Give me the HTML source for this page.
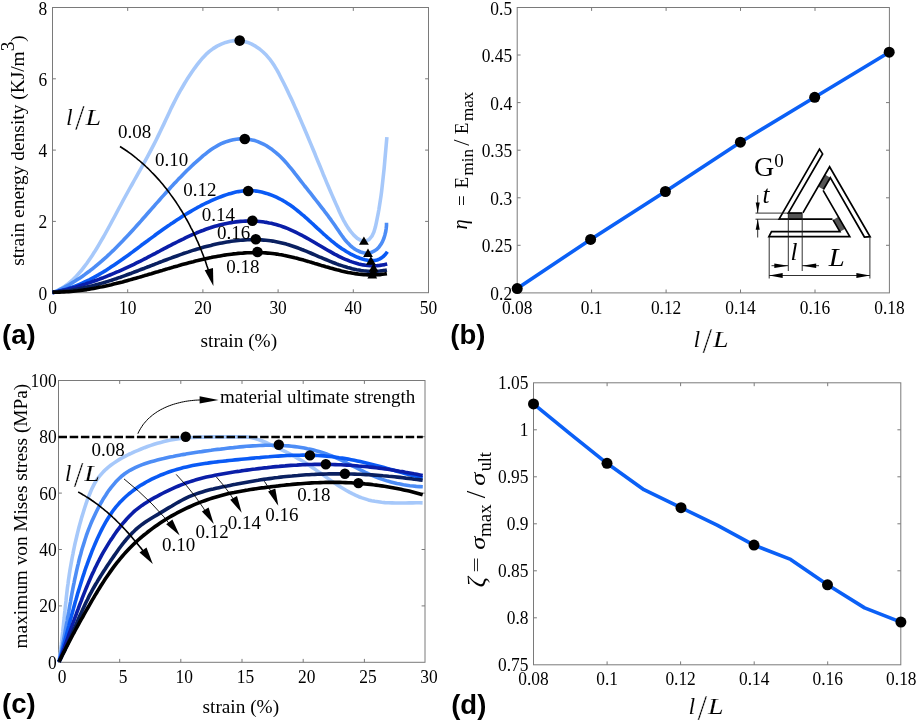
<!DOCTYPE html>
<html><head><meta charset="utf-8"><title>figure</title><style>html,body{margin:0;padding:0;background:#fff}svg{display:block}</style></head><body>
<svg width="917" height="722" viewBox="0 0 917 722">
<rect width="917" height="722" fill="#fff"/>
<rect x="52.5" y="7.5" width="376.0" height="285.2" fill="none" stroke="#7a7a7a" stroke-width="1"/>
<path d="M127.7,292.7 v-3.4 M127.7,7.5 v3.4 M202.9,292.7 v-3.4 M202.9,7.5 v3.4 M278.1,292.7 v-3.4 M278.1,7.5 v3.4 M353.3,292.7 v-3.4 M353.3,7.5 v3.4 M52.5,221.4 h3.4 M428.5,221.4 h-3.4 M52.5,150.1 h3.4 M428.5,150.1 h-3.4 M52.5,78.8 h3.4 M428.5,78.8 h-3.4 " stroke="#7a7a7a" stroke-width="1" fill="none"/>
<g fill="none" stroke-width="3.6" stroke-linejoin="round">
<path d="M52.5,292.5 L56.8,290.8 L60.9,288.7 L64.7,286.3 L68.3,283.6 L71.8,280.7 L75.0,277.6 L78.1,274.2 L81.1,270.8 L83.9,267.2 L86.7,263.5 L89.3,259.7 L91.9,255.9 L94.4,252.1 L96.8,248.2 L99.1,244.3 L101.4,240.4 L103.7,236.5 L105.9,232.5 L108.1,228.5 L110.3,224.5 L112.4,220.5 L114.6,216.5 L116.7,212.5 L118.8,208.5 L121.0,204.5 L123.1,200.5 L125.3,196.5 L127.5,192.5 L129.7,188.5 L132.0,184.5 L134.2,180.5 L136.4,176.6 L138.6,172.6 L140.9,168.6 L143.1,164.6 L145.3,160.6 L147.5,156.6 L149.6,152.6 L151.7,148.6 L153.8,144.6 L155.9,140.5 L157.9,136.4 L159.9,132.3 L161.8,128.2 L163.8,124.1 L165.7,120.0 L167.6,115.9 L169.6,111.7 L171.5,107.6 L173.5,103.6 L175.6,99.5 L177.7,95.4 L179.9,91.4 L182.2,87.5 L184.5,83.5 L186.9,79.6 L189.4,75.8 L191.9,72.0 L194.5,68.3 L197.2,64.7 L200.0,61.1 L202.9,57.7 L206.0,54.4 L209.4,51.4 L213.1,48.6 L217.1,46.1 L221.3,44.1 L225.6,42.4 L230.0,41.3 L234.5,40.6 L239.0,40.6 L243.4,41.2 L247.7,42.4 L251.8,44.2 L255.8,46.4 L259.6,49.0 L263.1,52.0 L266.5,55.3 L269.5,58.8 L272.2,62.5 L274.7,66.3 L277.0,70.2 L279.2,74.2 L281.2,78.2 L283.3,82.3 L285.3,86.3 L287.3,90.4 L289.2,94.5 L291.2,98.6 L293.1,102.8 L294.9,106.9 L296.8,111.1 L298.6,115.2 L300.4,119.4 L302.2,123.6 L304.0,127.8 L305.8,132.0 L307.6,136.2 L309.3,140.4 L311.1,144.6 L312.8,148.8 L314.6,153.0 L316.3,157.3 L318.0,161.5 L319.8,165.7 L321.5,169.9 L323.2,174.2 L325.0,178.4 L326.7,182.6 L328.5,186.8 L330.3,191.0 L332.1,195.1 L333.9,199.3 L335.7,203.4 L337.6,207.6 L339.4,211.7 L341.3,215.7 L343.3,219.8 L345.5,223.7 L347.9,227.6 L350.6,231.4 L353.8,235.1 L357.3,238.4 L361.2,240.6 L365.2,241.2 L369.0,239.6 L371.9,236.2 L373.9,231.9 L375.3,227.3 L376.3,222.8 L377.2,218.4 L378.1,213.9 L378.9,209.5 L379.6,205.0 L380.3,200.5 L381.0,196.0 L381.6,191.5 L382.1,187.0 L382.6,182.5 L383.1,177.9 L383.6,173.4 L384.1,168.8 L384.5,164.3 L384.9,159.7 L385.3,155.2 L385.7,150.7 L386.1,146.1 L386.5,141.6 L386.9,137.1" stroke="#a6c8fa"/>
<path d="M52.6,292.9 L55.5,291.6 L58.4,290.3 L61.2,288.9 L64.0,287.5 L66.7,286.0 L69.4,284.5 L72.1,282.9 L74.8,281.3 L77.4,279.6 L80.0,277.9 L82.5,276.2 L85.0,274.4 L87.5,272.5 L90.0,270.7 L92.4,268.8 L94.8,266.9 L97.2,264.9 L99.6,262.9 L101.9,260.9 L104.2,258.8 L106.5,256.8 L108.8,254.7 L111.1,252.5 L113.3,250.4 L115.5,248.2 L117.7,246.0 L119.9,243.8 L122.1,241.6 L124.2,239.3 L126.4,237.0 L128.5,234.8 L130.6,232.5 L132.7,230.2 L134.8,227.9 L136.9,225.5 L139.0,223.2 L141.1,220.9 L143.1,218.5 L145.2,216.2 L147.3,213.8 L149.3,211.5 L151.4,209.1 L153.5,206.8 L155.5,204.4 L157.6,202.1 L159.7,199.7 L161.7,197.4 L163.8,195.1 L165.9,192.8 L168.0,190.5 L170.0,188.2 L172.1,185.9 L174.3,183.6 L176.4,181.4 L178.5,179.1 L180.7,176.9 L182.8,174.7 L185.0,172.5 L187.2,170.3 L189.4,168.2 L191.7,166.0 L193.9,163.9 L196.2,161.9 L198.5,159.8 L200.8,157.8 L203.2,155.7 L205.6,153.8 L208.0,151.9 L210.5,150.0 L213.1,148.3 L215.7,146.7 L218.4,145.1 L221.2,143.7 L224.0,142.5 L227.0,141.4 L230.1,140.5 L233.2,139.8 L236.4,139.3 L239.6,138.9 L242.7,138.8 L245.9,139.0 L248.9,139.3 L251.9,139.9 L254.9,140.6 L257.8,141.6 L260.6,142.8 L263.4,144.1 L266.1,145.5 L268.7,147.2 L271.3,148.9 L273.7,150.8 L276.2,152.8 L278.5,154.8 L280.8,157.0 L283.0,159.2 L285.1,161.5 L287.2,163.9 L289.2,166.3 L291.2,168.7 L293.2,171.1 L295.1,173.6 L297.1,176.1 L299.0,178.6 L300.9,181.1 L302.8,183.5 L304.7,186.0 L306.7,188.4 L308.6,190.8 L310.5,193.2 L312.4,195.6 L314.3,198.1 L316.2,200.5 L318.1,202.9 L320.0,205.3 L321.9,207.8 L323.8,210.2 L325.6,212.7 L327.5,215.1 L329.3,217.7 L331.2,220.2 L333.0,222.7 L334.8,225.3 L336.6,227.9 L338.4,230.6 L340.2,233.2 L342.0,235.8 L343.9,238.4 L345.8,240.8 L347.9,243.1 L350.1,245.3 L352.5,247.4 L355.0,249.2 L357.7,250.7 L360.5,252.0 L363.4,252.8 L366.3,253.2 L369.2,253.0 L371.9,252.2 L374.5,250.9 L376.9,249.2 L379.1,246.9 L381.0,244.3 L382.6,241.4 L383.9,238.2 L384.9,234.9 L385.7,231.7 L386.2,228.5 L386.5,225.5 L386.5,222.8" stroke="#4d8df6"/>
<path d="M52.4,292.5 L55.1,292.0 L57.7,291.4 L60.2,290.8 L62.8,290.1 L65.3,289.4 L67.8,288.7 L70.3,287.8 L72.7,287.0 L75.1,286.1 L77.6,285.1 L80.0,284.1 L82.3,283.1 L84.7,282.0 L87.0,280.9 L89.3,279.8 L91.6,278.6 L93.9,277.4 L96.2,276.1 L98.4,274.9 L100.7,273.5 L102.9,272.2 L105.1,270.9 L107.3,269.5 L109.5,268.1 L111.7,266.6 L113.8,265.2 L116.0,263.7 L118.1,262.3 L120.3,260.8 L122.4,259.3 L124.5,257.7 L126.7,256.2 L128.8,254.7 L130.9,253.1 L133.0,251.6 L135.1,250.0 L137.2,248.5 L139.3,246.9 L141.3,245.3 L143.4,243.8 L145.5,242.2 L147.6,240.7 L149.7,239.1 L151.8,237.6 L153.9,236.1 L155.9,234.5 L158.0,233.0 L160.1,231.5 L162.2,230.0 L164.3,228.5 L166.5,227.0 L168.6,225.6 L170.7,224.1 L172.9,222.7 L175.0,221.2 L177.2,219.8 L179.4,218.4 L181.5,217.0 L183.7,215.6 L185.9,214.3 L188.2,212.9 L190.4,211.6 L192.7,210.3 L194.9,209.0 L197.2,207.7 L199.5,206.5 L201.9,205.2 L204.2,204.0 L206.5,202.9 L208.9,201.8 L211.3,200.7 L213.7,199.6 L216.1,198.6 L218.5,197.6 L220.9,196.7 L223.4,195.8 L225.9,194.9 L228.3,194.1 L230.8,193.4 L233.3,192.7 L235.9,192.1 L238.4,191.6 L240.9,191.2 L243.5,190.9 L246.1,190.7 L248.7,190.6 L251.2,190.6 L253.8,190.8 L256.4,191.1 L259.0,191.6 L261.6,192.1 L264.1,192.7 L266.6,193.4 L269.1,194.2 L271.6,195.1 L274.0,196.1 L276.4,197.2 L278.7,198.3 L281.0,199.5 L283.2,200.7 L285.4,202.0 L287.6,203.4 L289.7,204.8 L291.8,206.3 L293.9,207.8 L295.9,209.4 L297.9,211.0 L299.9,212.6 L301.9,214.3 L303.9,215.9 L305.8,217.7 L307.8,219.4 L309.7,221.2 L311.7,223.0 L313.6,224.7 L315.6,226.6 L317.5,228.4 L319.5,230.2 L321.5,232.0 L323.4,233.8 L325.4,235.5 L327.4,237.3 L329.4,239.0 L331.5,240.8 L333.5,242.4 L335.6,244.1 L337.7,245.7 L339.8,247.2 L341.9,248.7 L344.1,250.1 L346.3,251.5 L348.5,252.8 L350.8,254.1 L353.0,255.2 L355.4,256.3 L357.7,257.3 L360.1,258.2 L362.5,259.0 L365.0,259.7 L367.5,260.2 L369.9,260.5 L372.3,260.6 L374.7,260.5 L377.1,260.0 L379.3,259.1 L381.5,257.9 L383.6,256.3 L385.5,254.3 L387.4,251.7" stroke="#0a5af5"/>
<path d="M52.4,292.7 L54.9,292.2 L57.3,291.7 L59.6,291.1 L62.0,290.6 L64.4,290.0 L66.7,289.4 L69.1,288.8 L71.4,288.2 L73.8,287.6 L76.1,286.9 L78.4,286.2 L80.7,285.5 L83.0,284.8 L85.3,284.1 L87.5,283.3 L89.8,282.6 L92.1,281.8 L94.3,281.0 L96.6,280.2 L98.8,279.4 L101.0,278.5 L103.3,277.7 L105.5,276.8 L107.7,275.9 L109.9,275.0 L112.1,274.1 L114.3,273.2 L116.5,272.2 L118.7,271.3 L120.9,270.3 L123.1,269.3 L125.2,268.3 L127.4,267.3 L129.6,266.3 L131.7,265.3 L133.9,264.3 L136.1,263.2 L138.2,262.1 L140.4,261.1 L142.6,260.0 L144.7,258.9 L146.9,257.8 L149.0,256.6 L151.2,255.5 L153.3,254.4 L155.5,253.3 L157.6,252.1 L159.8,251.0 L161.9,249.8 L164.1,248.7 L166.2,247.6 L168.4,246.4 L170.6,245.3 L172.7,244.2 L174.9,243.1 L177.1,242.0 L179.3,240.9 L181.4,239.8 L183.6,238.8 L185.8,237.7 L188.0,236.7 L190.2,235.7 L192.4,234.7 L194.6,233.8 L196.8,232.8 L199.1,231.9 L201.3,231.0 L203.5,230.2 L205.8,229.3 L208.1,228.5 L210.3,227.8 L212.6,227.0 L214.9,226.3 L217.2,225.7 L219.5,225.1 L221.8,224.5 L224.1,223.9 L226.5,223.4 L228.8,223.0 L231.2,222.6 L233.5,222.2 L235.9,221.9 L238.3,221.6 L240.6,221.4 L243.0,221.2 L245.4,221.1 L247.8,221.0 L250.2,221.0 L252.6,221.1 L254.9,221.1 L257.3,221.3 L259.7,221.5 L262.1,221.7 L264.4,222.1 L266.8,222.4 L269.1,222.9 L271.4,223.3 L273.7,223.9 L276.0,224.5 L278.3,225.2 L280.6,225.9 L282.8,226.7 L285.0,227.5 L287.3,228.4 L289.5,229.3 L291.7,230.3 L293.9,231.3 L296.1,232.4 L298.2,233.5 L300.4,234.6 L302.6,235.7 L304.7,236.9 L306.9,238.1 L309.0,239.3 L311.1,240.5 L313.3,241.8 L315.4,243.0 L317.5,244.3 L319.6,245.5 L321.8,246.8 L323.9,248.0 L326.0,249.3 L328.1,250.5 L330.3,251.7 L332.4,252.9 L334.5,254.1 L336.7,255.2 L338.8,256.3 L341.0,257.4 L343.1,258.4 L345.3,259.3 L347.5,260.2 L349.7,261.1 L351.9,261.9 L354.1,262.6 L356.4,263.3 L358.6,263.9 L360.9,264.4 L363.2,264.9 L365.5,265.2 L367.8,265.5 L370.1,265.7 L372.5,265.8 L374.9,265.7 L377.3,265.6 L379.7,265.4 L382.2,265.0 L384.7,264.6 L387.2,264.0" stroke="#0a1ea8"/>
<path d="M52.5,291.9 L54.8,291.8 L57.2,291.7 L59.5,291.5 L61.8,291.3 L64.2,291.0 L66.5,290.8 L68.8,290.5 L71.1,290.2 L73.4,289.8 L75.7,289.4 L78.0,289.0 L80.2,288.6 L82.5,288.1 L84.8,287.6 L87.0,287.1 L89.3,286.6 L91.6,286.0 L93.8,285.4 L96.0,284.8 L98.3,284.2 L100.5,283.6 L102.8,282.9 L105.0,282.3 L107.2,281.6 L109.4,280.9 L111.6,280.2 L113.9,279.4 L116.1,278.7 L118.3,277.9 L120.5,277.2 L122.7,276.4 L124.9,275.6 L127.1,274.8 L129.3,274.0 L131.5,273.2 L133.7,272.3 L135.9,271.5 L138.0,270.7 L140.2,269.8 L142.4,269.0 L144.6,268.2 L146.8,267.3 L149.0,266.5 L151.2,265.6 L153.4,264.8 L155.6,263.9 L157.7,263.1 L159.9,262.2 L162.1,261.4 L164.3,260.5 L166.5,259.7 L168.7,258.9 L170.9,258.1 L173.1,257.3 L175.3,256.5 L177.5,255.7 L179.7,254.9 L181.9,254.1 L184.1,253.3 L186.3,252.6 L188.5,251.9 L190.7,251.1 L192.9,250.4 L195.2,249.7 L197.4,249.0 L199.6,248.4 L201.8,247.7 L204.1,247.1 L206.3,246.5 L208.6,245.9 L210.8,245.4 L213.1,244.8 L215.3,244.3 L217.6,243.8 L219.9,243.3 L222.1,242.9 L224.4,242.5 L226.7,242.1 L229.0,241.7 L231.3,241.3 L233.6,241.0 L235.9,240.7 L238.2,240.5 L240.5,240.3 L242.8,240.1 L245.1,239.9 L247.4,239.8 L249.8,239.7 L252.1,239.7 L254.4,239.7 L256.7,239.7 L259.0,239.8 L261.3,239.9 L263.6,240.1 L265.9,240.3 L268.2,240.5 L270.5,240.8 L272.8,241.1 L275.0,241.5 L277.3,241.9 L279.6,242.4 L281.8,242.9 L284.1,243.5 L286.3,244.1 L288.5,244.8 L290.7,245.5 L293.0,246.2 L295.2,247.0 L297.4,247.8 L299.6,248.6 L301.8,249.5 L303.9,250.3 L306.1,251.2 L308.3,252.1 L310.5,253.0 L312.7,254.0 L314.8,254.9 L317.0,255.8 L319.2,256.8 L321.4,257.7 L323.5,258.6 L325.7,259.5 L327.9,260.4 L330.1,261.3 L332.2,262.2 L334.4,263.0 L336.6,263.9 L338.8,264.7 L341.0,265.4 L343.2,266.1 L345.4,266.8 L347.6,267.5 L349.8,268.1 L352.1,268.7 L354.3,269.2 L356.6,269.7 L358.8,270.1 L361.1,270.5 L363.4,270.8 L365.7,271.0 L368.0,271.2 L370.3,271.3 L372.6,271.3 L375.0,271.3 L377.3,271.2 L379.7,271.0 L382.1,270.7 L384.5,270.4 L386.9,269.9" stroke="#0a2060"/>
<path d="M52.5,292.2 L54.8,292.2 L57.1,292.2 L59.4,292.1 L61.7,292.0 L64.0,291.9 L66.3,291.8 L68.6,291.7 L70.9,291.5 L73.2,291.3 L75.5,291.0 L77.7,290.8 L80.0,290.5 L82.3,290.2 L84.5,289.9 L86.8,289.6 L89.1,289.2 L91.3,288.8 L93.6,288.4 L95.8,288.0 L98.0,287.6 L100.3,287.1 L102.5,286.7 L104.8,286.2 L107.0,285.7 L109.2,285.2 L111.5,284.7 L113.7,284.1 L115.9,283.6 L118.1,283.0 L120.4,282.4 L122.6,281.9 L124.8,281.3 L127.0,280.7 L129.2,280.1 L131.4,279.4 L133.6,278.8 L135.9,278.2 L138.1,277.6 L140.3,276.9 L142.5,276.3 L144.7,275.6 L146.9,275.0 L149.1,274.3 L151.3,273.7 L153.5,273.0 L155.7,272.3 L157.9,271.7 L160.1,271.0 L162.3,270.4 L164.5,269.7 L166.7,269.1 L168.9,268.4 L171.2,267.8 L173.4,267.1 L175.6,266.5 L177.8,265.9 L180.0,265.2 L182.2,264.6 L184.4,264.0 L186.6,263.4 L188.9,262.8 L191.1,262.2 L193.3,261.7 L195.5,261.1 L197.7,260.6 L200.0,260.0 L202.2,259.5 L204.4,259.0 L206.7,258.5 L208.9,258.0 L211.1,257.6 L213.4,257.1 L215.6,256.7 L217.9,256.3 L220.1,255.9 L222.4,255.5 L224.6,255.1 L226.9,254.8 L229.1,254.5 L231.4,254.2 L233.7,253.9 L235.9,253.7 L238.2,253.4 L240.5,253.2 L242.8,253.1 L245.0,252.9 L247.3,252.8 L249.6,252.7 L251.9,252.7 L254.1,252.6 L256.4,252.6 L258.7,252.6 L261.0,252.7 L263.2,252.8 L265.5,252.9 L267.8,253.1 L270.0,253.3 L272.3,253.5 L274.6,253.8 L276.8,254.1 L279.1,254.5 L281.3,254.8 L283.6,255.3 L285.8,255.7 L288.0,256.2 L290.3,256.7 L292.5,257.2 L294.7,257.8 L297.0,258.3 L299.2,258.9 L301.4,259.5 L303.6,260.1 L305.8,260.8 L308.1,261.4 L310.3,262.1 L312.5,262.7 L314.7,263.4 L316.9,264.0 L319.1,264.7 L321.3,265.4 L323.6,266.0 L325.8,266.7 L328.0,267.3 L330.2,268.0 L332.4,268.6 L334.6,269.2 L336.8,269.8 L339.1,270.3 L341.3,270.9 L343.5,271.4 L345.7,271.9 L348.0,272.4 L350.2,272.8 L352.5,273.2 L354.7,273.6 L357.0,273.9 L359.2,274.2 L361.5,274.4 L363.8,274.6 L366.0,274.8 L368.3,274.9 L370.6,274.9 L372.9,274.9 L375.2,274.9 L377.5,274.7 L379.9,274.6 L382.2,274.3 L384.5,274.0 L386.9,273.6" stroke="#000000"/>
</g>
<circle cx="239.7" cy="40.6" r="5.3" fill="#000"/>
<circle cx="244.8" cy="139.0" r="5.3" fill="#000"/>
<circle cx="248.2" cy="191.0" r="5.3" fill="#000"/>
<circle cx="252.4" cy="220.8" r="5.3" fill="#000"/>
<circle cx="255.8" cy="239.2" r="5.3" fill="#000"/>
<circle cx="257.5" cy="252.0" r="5.3" fill="#000"/>
<path d="M363.9,236.4 l4.9,8.4 h-9.8 z" fill="#000"/>
<path d="M368.0,248.6 l4.9,8.4 h-9.8 z" fill="#000"/>
<path d="M370.9,256.3 l4.9,8.4 h-9.8 z" fill="#000"/>
<path d="M373.6,263.3 l4.9,8.4 h-9.8 z" fill="#000"/>
<path d="M373.4,266.8 l4.9,8.4 h-9.8 z" fill="#000"/>
<path d="M372.3,270.0 l4.9,8.4 h-9.8 z" fill="#000"/>
<path d="M120.0,146.5 L122.3,148.0 L124.6,149.5 L126.9,151.0 L129.1,152.6 L131.3,154.2 L133.5,155.9 L135.6,157.5 L137.7,159.3 L139.8,161.0 L141.9,162.8 L143.9,164.6 L145.9,166.5 L147.9,168.3 L149.8,170.2 L151.7,172.2 L153.6,174.1 L155.5,176.1 L157.3,178.1 L159.1,180.1 L160.9,182.2 L162.7,184.3 L164.4,186.4 L166.1,188.5 L167.8,190.7 L169.4,192.9 L171.0,195.1 L172.6,197.3 L174.2,199.5 L175.8,201.8 L177.3,204.1 L178.8,206.4 L180.2,208.7 L181.7,211.0 L183.1,213.4 L184.5,215.7 L185.8,218.1 L187.2,220.5 L188.5,222.9 L189.8,225.3 L191.0,227.8 L192.3,230.2 L193.5,232.7 L194.7,235.1 L195.8,237.6 L196.9,240.1 L198.1,242.6 L199.1,245.1 L200.2,247.7 L201.2,250.2 L202.2,252.7 L203.2,255.3 L204.1,257.8 L205.1,260.4 L206.0,262.9 L206.8,265.5 L207.7,268.1 L208.5,270.7 L209.3,273.2 L210.1,275.8" stroke="#000" stroke-width="1.6" fill="none"/>
<path d="M213.4,286.0 L204.7,270.2 L213.0,268.0 z" fill="#000"/>
<text x="134.5" y="137.9" font-size="19" text-anchor="middle" font-family="'Liberation Serif', 'Times New Roman', serif" >0.08</text>
<text x="171.6" y="166.1" font-size="19" text-anchor="middle" font-family="'Liberation Serif', 'Times New Roman', serif" >0.10</text>
<text x="199.8" y="195.5" font-size="19" text-anchor="middle" font-family="'Liberation Serif', 'Times New Roman', serif" >0.12</text>
<text x="218.3" y="220.9" font-size="19" text-anchor="middle" font-family="'Liberation Serif', 'Times New Roman', serif" >0.14</text>
<text x="233.7" y="239.1" font-size="19" text-anchor="middle" font-family="'Liberation Serif', 'Times New Roman', serif" >0.16</text>
<text x="242.8" y="273.0" font-size="19" text-anchor="middle" font-family="'Liberation Serif', 'Times New Roman', serif" >0.18</text>
<g font-family="'Liberation Serif', 'Times New Roman', serif" font-size="24" stroke="#fff" stroke-width="0.12"><text x="66.0" y="124.9" font-style="italic">l</text><text x="75.0" y="130.2" font-size="34.8" stroke-width="0.4">/</text><text transform="translate(85.4,124.9) scale(1.17,1)" font-style="italic">L</text></g>
<text transform="translate(47.3,299.7) scale(1,1.11)" font-size="17.4" text-anchor="end" font-family="'Liberation Serif', 'Times New Roman', serif" >0</text>
<text transform="translate(47.3,228.4) scale(1,1.11)" font-size="17.4" text-anchor="end" font-family="'Liberation Serif', 'Times New Roman', serif" >2</text>
<text transform="translate(47.3,157.1) scale(1,1.11)" font-size="17.4" text-anchor="end" font-family="'Liberation Serif', 'Times New Roman', serif" >4</text>
<text transform="translate(47.3,85.8) scale(1,1.11)" font-size="17.4" text-anchor="end" font-family="'Liberation Serif', 'Times New Roman', serif" >6</text>
<text transform="translate(47.3,14.5) scale(1,1.11)" font-size="17.4" text-anchor="end" font-family="'Liberation Serif', 'Times New Roman', serif" >8</text>
<text transform="translate(52.5,314.0) scale(1,1.11)" font-size="17.4" text-anchor="middle" font-family="'Liberation Serif', 'Times New Roman', serif" >0</text>
<text transform="translate(127.7,314.0) scale(1,1.11)" font-size="17.4" text-anchor="middle" font-family="'Liberation Serif', 'Times New Roman', serif" >10</text>
<text transform="translate(202.9,314.0) scale(1,1.11)" font-size="17.4" text-anchor="middle" font-family="'Liberation Serif', 'Times New Roman', serif" >20</text>
<text transform="translate(278.1,314.0) scale(1,1.11)" font-size="17.4" text-anchor="middle" font-family="'Liberation Serif', 'Times New Roman', serif" >30</text>
<text transform="translate(353.3,314.0) scale(1,1.11)" font-size="17.4" text-anchor="middle" font-family="'Liberation Serif', 'Times New Roman', serif" >40</text>
<text transform="translate(428.5,314.0) scale(1,1.11)" font-size="17.4" text-anchor="middle" font-family="'Liberation Serif', 'Times New Roman', serif" >50</text>
<text x="238.8" y="347.2" font-size="19.3" text-anchor="middle" font-family="'Liberation Serif', 'Times New Roman', serif" >strain (%)</text>
<text transform="translate(24.0,150.5) rotate(-90)" font-size="19.4" text-anchor="middle" font-family="'Liberation Serif', 'Times New Roman', serif">strain energy density (KJ/m<tspan dy="-9.6" font-size="19.4">3</tspan><tspan dy="9.6">)</tspan></text>
<text x="2.0" y="344.3" font-size="27.5" text-anchor="start" font-family="'Liberation Sans', Arial, sans-serif" font-weight="bold">(a)</text>
<rect x="517.2" y="7.5" width="372.2" height="285.4" fill="none" stroke="#7a7a7a" stroke-width="1"/>
<path d="M591.6,292.9 v-3.4 M591.6,7.5 v3.4 M666.1,292.9 v-3.4 M666.1,7.5 v3.4 M740.5,292.9 v-3.4 M740.5,7.5 v3.4 M815.0,292.9 v-3.4 M815.0,7.5 v3.4 M517.2,245.3 h3.4 M889.4,245.3 h-3.4 M517.2,197.8 h3.4 M889.4,197.8 h-3.4 M517.2,150.2 h3.4 M889.4,150.2 h-3.4 M517.2,102.6 h3.4 M889.4,102.6 h-3.4 M517.2,55.0 h3.4 M889.4,55.0 h-3.4 " stroke="#7a7a7a" stroke-width="1" fill="none"/>
<path d="M517.2,288.6 L590.6,239.4 L665.4,191.5 L740.4,142.2 L814.7,97.3 L889.2,52.2" stroke="#0b60f6" stroke-width="3.6" fill="none" stroke-linejoin="round"/>
<circle cx="517.2" cy="288.6" r="5.5" fill="#000"/>
<circle cx="590.6" cy="239.4" r="5.5" fill="#000"/>
<circle cx="665.4" cy="191.5" r="5.5" fill="#000"/>
<circle cx="740.4" cy="142.2" r="5.5" fill="#000"/>
<circle cx="814.7" cy="97.3" r="5.5" fill="#000"/>
<circle cx="889.2" cy="52.2" r="5.5" fill="#000"/>
<text transform="translate(512.1,299.9) scale(1,1.11)" font-size="17.4" text-anchor="end" font-family="'Liberation Serif', 'Times New Roman', serif" >0.2</text>
<text transform="translate(512.1,252.3) scale(1,1.11)" font-size="17.4" text-anchor="end" font-family="'Liberation Serif', 'Times New Roman', serif" >0.25</text>
<text transform="translate(512.1,204.8) scale(1,1.11)" font-size="17.4" text-anchor="end" font-family="'Liberation Serif', 'Times New Roman', serif" >0.3</text>
<text transform="translate(512.1,157.2) scale(1,1.11)" font-size="17.4" text-anchor="end" font-family="'Liberation Serif', 'Times New Roman', serif" >0.35</text>
<text transform="translate(512.1,109.6) scale(1,1.11)" font-size="17.4" text-anchor="end" font-family="'Liberation Serif', 'Times New Roman', serif" >0.4</text>
<text transform="translate(512.1,62.0) scale(1,1.11)" font-size="17.4" text-anchor="end" font-family="'Liberation Serif', 'Times New Roman', serif" >0.45</text>
<text transform="translate(512.1,14.5) scale(1,1.11)" font-size="17.4" text-anchor="end" font-family="'Liberation Serif', 'Times New Roman', serif" >0.5</text>
<text transform="translate(517.2,313.8) scale(1,1.11)" font-size="17.4" text-anchor="middle" font-family="'Liberation Serif', 'Times New Roman', serif" >0.08</text>
<text transform="translate(591.6,313.8) scale(1,1.11)" font-size="17.4" text-anchor="middle" font-family="'Liberation Serif', 'Times New Roman', serif" >0.1</text>
<text transform="translate(666.1,313.8) scale(1,1.11)" font-size="17.4" text-anchor="middle" font-family="'Liberation Serif', 'Times New Roman', serif" >0.12</text>
<text transform="translate(740.5,313.8) scale(1,1.11)" font-size="17.4" text-anchor="middle" font-family="'Liberation Serif', 'Times New Roman', serif" >0.14</text>
<text transform="translate(815.0,313.8) scale(1,1.11)" font-size="17.4" text-anchor="middle" font-family="'Liberation Serif', 'Times New Roman', serif" >0.16</text>
<text transform="translate(889.4,313.8) scale(1,1.11)" font-size="17.4" text-anchor="middle" font-family="'Liberation Serif', 'Times New Roman', serif" >0.18</text>
<g font-family="'Liberation Serif', 'Times New Roman', serif" font-size="24" stroke="#fff" stroke-width="0.12"><text x="693.5" y="347.3" font-style="italic">l</text><text x="702.5" y="352.6" font-size="34.8" stroke-width="0.4">/</text><text transform="translate(712.9,347.3) scale(1.17,1)" font-style="italic">L</text></g>
<text x="450.3" y="344.3" font-size="27.5" text-anchor="start" font-family="'Liberation Sans', Arial, sans-serif" font-weight="bold">(b)</text>
<g transform="translate(467.7,231) rotate(-90)" font-family="'Liberation Serif', 'Times New Roman', serif" font-size="19"><text x="1.5" y="-0.5" font-style="italic" font-size="20.5">η</text><text x="25" y="0">=</text><text x="42.4" y="0">E</text><text x="55.5" y="5.2" font-size="17">min</text><text x="85.3" y="0.8" font-size="22.5">/</text><text x="96.7" y="0">E</text><text x="110" y="5.2" font-size="17">max</text></g>
<g stroke-linejoin="miter">
<path d="M788.3,213.1 L802.0,213.1 L802.0,219.2 L788.3,219.2z" fill="#555"/>
<path d="M830.3,177.7 L823.4,189.5 L818.1,186.5 L825.0,174.6z" fill="#555"/>
<path d="M839.9,231.7 L833.1,219.9 L838.4,216.8 L845.2,228.7z" fill="#555"/>
<path d="M802.0,213.1 L788.3,213.1 L822.6,153.9 L819.5,149.1 L779.1,219.2 L832.5,219.2" fill="none" stroke="#000" stroke-width="1.7"/>
<path d="M823.4,189.5 L830.3,177.7 L864.4,237.0 L870.1,236.7 L829.6,166.7 L802.9,212.9" fill="none" stroke="#000" stroke-width="1.7"/>
<path d="M833.1,219.9 L839.9,231.7 L771.5,231.6 L768.9,236.7 L849.8,236.6 L823.1,190.4" fill="none" stroke="#000" stroke-width="1.7"/>
</g>
<path d="M755.5,213.1 H802 M755.5,219.2 H788 M788.3,213 V271 M802.2,213 V271 M769.2,237 V278.5 M869.9,237 V278.5 M757.7,195 V213 M757.7,219.2 V237.5 M771.5,265.7 H788 M802.2,265.7 H819 M769.2,275.5 H869.9" stroke="#1a1a1a" stroke-width="0.9" fill="none"/>
<path d="M757.7,213.1 L755.7,202.6 L759.7,202.6 z" fill="#000"/>
<path d="M757.7,219.2 L759.7,229.7 L755.7,229.7 z" fill="#000"/>
<path d="M788.3,265.7 L774.3,267.9 L774.3,263.5 z" fill="#000"/>
<path d="M802.2,265.7 L816.2,263.5 L816.2,267.9 z" fill="#000"/>
<path d="M769.2,275.5 L782.7,273.0 L782.7,278.0 z" fill="#000"/>
<path d="M869.9,275.5 L856.4,278.0 L856.4,273.0 z" fill="#000"/>
<text x="762.5" y="203.4" font-size="25" text-anchor="start" font-family="'Liberation Serif', 'Times New Roman', serif" font-style="italic">t</text>
<text x="790.5" y="260.0" font-size="25" text-anchor="start" font-family="'Liberation Serif', 'Times New Roman', serif" font-style="italic">l</text>
<text transform="translate(828.8,265.7) scale(1.15,1)" font-size="25" font-family="'Liberation Serif', 'Times New Roman', serif" font-style="italic">L</text>
<text x="754" y="176.4" font-family="'Liberation Serif', 'Times New Roman', serif" font-size="28">G<tspan dy="-9.5" font-size="19">0</tspan></text>
<rect x="58.5" y="380.5" width="366.5" height="281.8" fill="none" stroke="#7a7a7a" stroke-width="1"/>
<path d="M119.7,662.3 v-3.4 M119.7,380.5 v3.4 M180.8,662.3 v-3.4 M180.8,380.5 v3.4 M242.0,662.3 v-3.4 M242.0,380.5 v3.4 M303.2,662.3 v-3.4 M303.2,380.5 v3.4 M364.4,662.3 v-3.4 M364.4,380.5 v3.4 M58.5,605.9 h3.4 M425.0,605.9 h-3.4 M58.5,549.5 h3.4 M425.0,549.5 h-3.4 M58.5,493.1 h3.4 M425.0,493.1 h-3.4 M58.5,436.7 h3.4 M425.0,436.7 h-3.4 " stroke="#7a7a7a" stroke-width="1" fill="none"/>
<g fill="none" stroke-width="3.6" stroke-linejoin="round">
<path d="M59.0,661.8 L59.5,658.4 L59.9,655.0 L60.4,651.7 L60.8,648.3 L61.3,644.9 L61.7,641.5 L62.0,638.1 L62.4,634.7 L62.8,631.4 L63.1,628.0 L63.5,624.6 L63.8,621.2 L64.2,617.8 L64.5,614.4 L64.9,611.0 L65.2,607.6 L65.6,604.3 L66.0,600.9 L66.3,597.5 L66.7,594.1 L67.1,590.7 L67.5,587.3 L68.0,584.0 L68.4,580.6 L68.9,577.2 L69.4,573.8 L69.9,570.5 L70.5,567.1 L71.1,563.7 L71.7,560.4 L72.3,557.0 L73.0,553.6 L73.6,550.3 L74.3,547.0 L75.0,543.6 L75.8,540.3 L76.6,537.0 L77.4,533.7 L78.2,530.4 L79.0,527.2 L79.9,523.9 L80.8,520.7 L81.7,517.4 L82.7,514.2 L83.7,510.9 L84.7,507.7 L85.8,504.4 L86.9,501.2 L88.1,497.9 L89.4,494.7 L90.7,491.5 L92.1,488.3 L93.7,485.2 L95.3,482.2 L97.1,479.4 L99.1,476.7 L101.3,474.1 L103.5,471.6 L105.9,469.3 L108.4,467.1 L111.1,465.0 L113.8,463.1 L116.6,461.2 L119.5,459.4 L122.5,457.7 L125.5,456.1 L128.6,454.5 L131.7,453.1 L134.8,451.6 L138.0,450.3 L141.2,449.0 L144.4,447.7 L147.6,446.5 L150.9,445.4 L154.1,444.3 L157.4,443.3 L160.7,442.4 L164.0,441.6 L167.3,440.8 L170.6,440.1 L173.9,439.4 L177.3,438.9 L180.6,438.4 L184.0,438.1 L187.3,437.8 L190.7,437.5 L194.0,437.4 L197.4,437.2 L200.8,437.1 L204.2,437.1 L207.6,437.0 L211.0,436.9 L214.5,436.9 L217.9,436.9 L221.4,436.9 L224.8,436.9 L228.3,436.9 L231.7,436.9 L235.2,436.9 L238.6,436.9 L242.0,436.9 L245.4,436.9 L248.7,437.1 L252.0,437.8 L255.2,438.6 L258.4,439.6 L261.6,440.8 L264.8,442.0 L267.9,443.4 L271.0,444.8 L274.1,446.3 L277.1,447.7 L280.2,449.2 L283.3,450.7 L286.3,452.2 L289.3,453.7 L292.3,455.3 L295.3,456.9 L298.2,458.6 L301.2,460.3 L304.1,462.0 L307.0,463.9 L309.8,465.8 L312.7,467.7 L315.5,469.6 L318.3,471.6 L321.2,473.6 L324.0,475.6 L326.8,477.6 L329.6,479.6 L332.4,481.6 L335.3,483.5 L338.1,485.4 L341.0,487.3 L343.9,489.0 L346.8,490.7 L349.8,492.4 L352.8,493.9 L355.8,495.3 L358.8,496.7 L362.0,497.9 L365.1,498.9 L368.3,499.9 L371.6,500.7 L374.9,501.3 L378.2,501.8 L381.6,502.3 L385.0,502.6 L388.5,502.8 L392.0,502.9 L395.4,503.0 L398.9,503.0 L402.4,503.0 L405.8,503.0 L409.2,502.9 L412.6,502.9 L416.0,502.8 L419.3,502.8 L422.6,502.9" stroke="#a6c8fa"/>
<path d="M58.9,661.6 L59.6,658.6 L60.3,655.5 L61.0,652.4 L61.7,649.3 L62.3,646.2 L62.9,643.1 L63.6,639.9 L64.2,636.8 L64.8,633.7 L65.3,630.5 L65.9,627.3 L66.5,624.2 L67.1,621.0 L67.6,617.8 L68.2,614.6 L68.8,611.4 L69.3,608.2 L69.9,605.0 L70.5,601.8 L71.0,598.6 L71.6,595.4 L72.2,592.2 L72.8,589.0 L73.4,585.8 L74.1,582.6 L74.7,579.5 L75.4,576.3 L76.1,573.1 L76.8,569.9 L77.5,566.8 L78.3,563.6 L79.0,560.5 L79.8,557.3 L80.7,554.2 L81.5,551.1 L82.4,548.0 L83.4,544.9 L84.3,541.9 L85.3,538.8 L86.3,535.7 L87.4,532.7 L88.5,529.7 L89.7,526.7 L90.9,523.7 L92.1,520.8 L93.4,517.9 L94.8,514.9 L96.2,512.0 L97.6,509.2 L99.1,506.3 L100.6,503.5 L102.3,500.7 L103.9,497.9 L105.7,495.2 L107.4,492.5 L109.3,489.8 L111.2,487.3 L113.3,484.8 L115.4,482.3 L117.6,480.0 L119.9,477.8 L122.2,475.7 L124.7,473.8 L127.3,472.0 L130.0,470.3 L132.8,468.8 L135.7,467.4 L138.6,466.1 L141.6,464.9 L144.7,463.8 L147.8,462.8 L150.9,461.8 L154.1,460.9 L157.3,460.1 L160.4,459.3 L163.6,458.6 L166.8,457.8 L169.9,457.1 L173.1,456.5 L176.3,455.8 L179.4,455.2 L182.6,454.6 L185.7,454.1 L188.9,453.5 L192.1,453.0 L195.2,452.5 L198.4,452.0 L201.6,451.6 L204.7,451.1 L207.9,450.7 L211.1,450.3 L214.3,449.8 L217.5,449.4 L220.6,449.1 L223.9,448.7 L227.1,448.3 L230.3,447.9 L233.5,447.6 L236.7,447.2 L240.0,446.9 L243.2,446.6 L246.4,446.3 L249.7,446.1 L252.9,445.9 L256.1,445.7 L259.4,445.5 L262.6,445.4 L265.8,445.3 L269.1,445.2 L272.3,445.2 L275.5,445.3 L278.7,445.4 L282.0,445.5 L285.2,445.7 L288.4,445.9 L291.6,446.2 L294.8,446.6 L297.9,447.0 L301.1,447.5 L304.3,448.0 L307.4,448.7 L310.5,449.3 L313.6,450.1 L316.7,450.9 L319.8,451.8 L322.9,452.8 L325.9,453.8 L328.9,454.9 L331.9,456.0 L334.9,457.3 L337.9,458.6 L340.8,459.9 L343.7,461.3 L346.6,462.8 L349.5,464.3 L352.3,465.8 L355.2,467.2 L358.1,468.7 L361.0,470.2 L363.9,471.6 L366.8,473.0 L369.7,474.3 L372.6,475.6 L375.6,476.8 L378.6,478.0 L381.6,479.1 L384.6,480.1 L387.7,481.1 L390.8,481.9 L393.9,482.7 L397.0,483.5 L400.2,484.1 L403.4,484.7 L406.6,485.2 L409.8,485.7 L413.0,486.0 L416.2,486.4 L419.5,486.6 L422.8,486.8" stroke="#4d8df6"/>
<path d="M59.1,661.9 L59.9,658.9 L60.7,655.9 L61.6,652.9 L62.4,649.9 L63.2,646.9 L64.0,643.9 L64.8,641.0 L65.6,638.0 L66.4,635.0 L67.2,632.0 L68.0,629.1 L68.8,626.1 L69.5,623.2 L70.3,620.2 L71.1,617.3 L71.9,614.3 L72.7,611.4 L73.5,608.4 L74.3,605.5 L75.1,602.6 L76.0,599.6 L76.8,596.7 L77.6,593.8 L78.5,590.9 L79.4,587.9 L80.3,585.0 L81.2,582.1 L82.1,579.2 L83.0,576.3 L84.0,573.4 L84.9,570.5 L85.9,567.6 L87.0,564.7 L88.0,561.8 L89.1,558.9 L90.2,556.0 L91.3,553.1 L92.4,550.2 L93.6,547.4 L94.8,544.5 L96.0,541.7 L97.3,538.8 L98.6,536.0 L99.9,533.2 L101.3,530.4 L102.7,527.6 L104.2,524.9 L105.7,522.2 L107.3,519.5 L108.9,516.9 L110.6,514.3 L112.3,511.8 L114.1,509.3 L116.0,506.9 L118.0,504.6 L120.0,502.3 L122.1,500.2 L124.3,498.0 L126.5,496.0 L128.8,494.0 L131.2,492.1 L133.6,490.3 L136.0,488.5 L138.5,486.8 L141.1,485.1 L143.7,483.6 L146.3,482.0 L149.0,480.6 L151.7,479.2 L154.5,477.8 L157.3,476.6 L160.1,475.3 L163.0,474.2 L165.8,473.1 L168.7,472.0 L171.7,471.0 L174.6,470.1 L177.5,469.2 L180.5,468.4 L183.5,467.6 L186.5,466.9 L189.5,466.2 L192.5,465.6 L195.5,465.0 L198.5,464.5 L201.5,464.0 L204.6,463.5 L207.6,463.1 L210.6,462.6 L213.7,462.2 L216.7,461.9 L219.8,461.5 L222.9,461.2 L225.9,460.9 L229.0,460.5 L232.1,460.2 L235.1,459.9 L238.2,459.6 L241.3,459.3 L244.3,459.0 L247.4,458.7 L250.5,458.4 L253.5,458.1 L256.6,457.8 L259.7,457.6 L262.7,457.3 L265.8,457.0 L268.9,456.8 L271.9,456.5 L275.0,456.3 L278.1,456.1 L281.1,455.9 L284.2,455.7 L287.3,455.5 L290.3,455.4 L293.4,455.3 L296.4,455.2 L299.5,455.2 L302.6,455.1 L305.6,455.1 L308.7,455.2 L311.7,455.3 L314.8,455.4 L317.8,455.5 L320.9,455.7 L323.9,455.9 L327.0,456.2 L330.0,456.5 L333.0,456.8 L336.1,457.2 L339.1,457.7 L342.2,458.1 L345.2,458.6 L348.2,459.1 L351.2,459.7 L354.3,460.3 L357.3,460.9 L360.3,461.6 L363.3,462.3 L366.3,463.0 L369.3,463.7 L372.3,464.4 L375.2,465.2 L378.2,466.0 L381.2,466.8 L384.1,467.6 L387.1,468.4 L390.1,469.3 L393.0,470.1 L396.0,470.9 L398.9,471.7 L401.9,472.6 L404.9,473.4 L407.8,474.2 L410.8,474.9 L413.7,475.7 L416.7,476.4 L419.7,477.2 L422.7,477.8" stroke="#0a5af5"/>
<path d="M59.1,661.8 L60.1,659.1 L61.1,656.3 L62.1,653.6 L63.1,650.8 L64.2,648.1 L65.1,645.3 L66.1,642.6 L67.1,639.8 L68.1,637.0 L69.1,634.2 L70.1,631.5 L71.1,628.7 L72.0,625.9 L73.0,623.1 L74.0,620.3 L75.0,617.5 L76.0,614.8 L77.0,612.0 L78.1,609.2 L79.1,606.4 L80.1,603.7 L81.2,600.9 L82.2,598.1 L83.3,595.4 L84.4,592.6 L85.5,589.9 L86.6,587.2 L87.8,584.4 L88.9,581.7 L90.1,579.0 L91.3,576.3 L92.5,573.6 L93.8,571.0 L95.0,568.3 L96.3,565.7 L97.6,563.0 L99.0,560.4 L100.3,557.8 L101.7,555.2 L103.1,552.7 L104.6,550.1 L106.1,547.6 L107.6,545.1 L109.1,542.6 L110.7,540.1 L112.4,537.7 L114.0,535.2 L115.7,532.8 L117.4,530.4 L119.2,528.1 L121.0,525.7 L122.9,523.4 L124.8,521.2 L126.7,519.0 L128.8,516.8 L130.8,514.7 L132.9,512.7 L135.1,510.7 L137.4,508.9 L139.7,507.1 L142.0,505.4 L144.4,503.8 L146.9,502.2 L149.4,500.6 L151.9,499.1 L154.5,497.7 L157.1,496.3 L159.7,494.9 L162.3,493.5 L165.0,492.2 L167.7,490.9 L170.3,489.6 L173.0,488.4 L175.7,487.2 L178.5,486.0 L181.2,484.9 L183.9,483.8 L186.7,482.8 L189.5,481.9 L192.3,481.0 L195.1,480.1 L197.9,479.3 L200.7,478.5 L203.5,477.8 L206.4,477.1 L209.2,476.5 L212.1,475.9 L215.0,475.3 L217.8,474.7 L220.7,474.2 L223.6,473.7 L226.5,473.2 L229.4,472.7 L232.3,472.2 L235.2,471.8 L238.2,471.4 L241.1,470.9 L244.0,470.5 L246.9,470.1 L249.8,469.7 L252.8,469.3 L255.7,469.0 L258.6,468.6 L261.6,468.2 L264.5,467.9 L267.4,467.6 L270.4,467.2 L273.3,466.9 L276.2,466.6 L279.2,466.4 L282.1,466.1 L285.1,465.9 L288.0,465.6 L290.9,465.4 L293.9,465.2 L296.8,465.1 L299.8,464.9 L302.7,464.8 L305.7,464.6 L308.6,464.5 L311.5,464.5 L314.5,464.4 L317.4,464.4 L320.4,464.4 L323.3,464.4 L326.3,464.4 L329.2,464.4 L332.1,464.5 L335.1,464.6 L338.0,464.7 L341.0,464.8 L343.9,465.0 L346.8,465.1 L349.8,465.3 L352.7,465.5 L355.7,465.7 L358.6,466.0 L361.5,466.2 L364.5,466.5 L367.4,466.8 L370.3,467.1 L373.2,467.4 L376.2,467.8 L379.1,468.1 L382.0,468.5 L384.9,468.9 L387.8,469.3 L390.8,469.8 L393.7,470.2 L396.6,470.7 L399.5,471.2 L402.4,471.6 L405.3,472.2 L408.2,472.7 L411.1,473.2 L414.0,473.8 L416.9,474.3 L419.8,474.9 L422.7,475.5" stroke="#0a1ea8"/>
<path d="M59.0,661.8 L60.3,659.3 L61.6,656.8 L62.8,654.2 L64.1,651.7 L65.3,649.1 L66.5,646.5 L67.7,643.9 L68.8,641.3 L70.0,638.7 L71.1,636.1 L72.3,633.4 L73.4,630.8 L74.5,628.2 L75.7,625.5 L76.8,622.9 L77.9,620.3 L79.1,617.6 L80.2,615.0 L81.4,612.4 L82.6,609.8 L83.8,607.2 L85.0,604.6 L86.2,602.0 L87.5,599.5 L88.7,596.9 L90.0,594.4 L91.4,591.9 L92.7,589.4 L94.1,587.0 L95.5,584.5 L97.0,582.1 L98.4,579.7 L99.9,577.3 L101.4,574.9 L102.9,572.5 L104.5,570.1 L106.0,567.7 L107.6,565.3 L109.2,563.0 L110.8,560.6 L112.4,558.2 L114.0,555.9 L115.7,553.5 L117.3,551.2 L119.0,548.8 L120.7,546.5 L122.5,544.2 L124.2,542.0 L126.0,539.8 L127.9,537.6 L129.8,535.5 L131.8,533.4 L133.8,531.5 L135.8,529.5 L138.0,527.7 L140.2,525.9 L142.4,524.2 L144.7,522.6 L147.0,521.0 L149.4,519.5 L151.8,518.0 L154.3,516.5 L156.7,515.1 L159.2,513.6 L161.6,512.1 L164.1,510.6 L166.5,509.1 L169.0,507.6 L171.5,506.2 L173.9,504.7 L176.4,503.3 L178.9,501.9 L181.4,500.5 L184.0,499.2 L186.5,497.9 L189.1,496.7 L191.7,495.6 L194.3,494.6 L197.0,493.6 L199.6,492.7 L202.3,491.9 L205.1,491.1 L207.8,490.3 L210.6,489.6 L213.3,489.0 L216.1,488.3 L218.9,487.7 L221.7,487.1 L224.5,486.5 L227.2,486.0 L230.0,485.4 L232.8,484.8 L235.6,484.3 L238.4,483.7 L241.2,483.2 L244.0,482.7 L246.8,482.2 L249.6,481.7 L252.5,481.2 L255.3,480.7 L258.1,480.3 L260.9,479.8 L263.7,479.4 L266.5,479.0 L269.4,478.6 L272.2,478.2 L275.0,477.8 L277.8,477.5 L280.7,477.1 L283.5,476.8 L286.3,476.5 L289.2,476.2 L292.0,476.0 L294.8,475.7 L297.7,475.5 L300.5,475.2 L303.4,475.0 L306.2,474.8 L309.0,474.7 L311.9,474.5 L314.7,474.4 L317.6,474.2 L320.4,474.1 L323.3,474.1 L326.1,474.0 L329.0,473.9 L331.8,473.9 L334.7,473.9 L337.5,473.8 L340.4,473.9 L343.2,473.9 L346.1,473.9 L348.9,474.0 L351.8,474.0 L354.6,474.1 L357.5,474.2 L360.3,474.3 L363.1,474.5 L366.0,474.6 L368.8,474.8 L371.7,474.9 L374.5,475.1 L377.4,475.3 L380.2,475.5 L383.1,475.8 L385.9,476.0 L388.7,476.3 L391.6,476.5 L394.4,476.8 L397.3,477.1 L400.1,477.4 L402.9,477.7 L405.7,478.1 L408.6,478.4 L411.4,478.8 L414.2,479.2 L417.1,479.5 L419.9,479.9 L422.7,480.3" stroke="#0a2060"/>
<path d="M59.0,661.8 L60.2,659.3 L61.5,656.8 L62.7,654.3 L64.0,651.8 L65.3,649.3 L66.5,646.8 L67.8,644.3 L69.1,641.9 L70.4,639.4 L71.7,636.9 L73.0,634.4 L74.4,632.0 L75.7,629.5 L77.0,627.1 L78.4,624.6 L79.7,622.2 L81.1,619.7 L82.5,617.3 L83.8,614.8 L85.2,612.4 L86.6,609.9 L88.0,607.5 L89.4,605.1 L90.8,602.6 L92.2,600.2 L93.6,597.8 L95.0,595.4 L96.5,593.0 L97.9,590.6 L99.4,588.2 L100.9,585.8 L102.4,583.5 L103.9,581.1 L105.4,578.8 L107.0,576.5 L108.6,574.2 L110.2,571.9 L111.8,569.6 L113.4,567.4 L115.1,565.1 L116.8,562.9 L118.5,560.8 L120.3,558.6 L122.1,556.5 L123.9,554.4 L125.8,552.3 L127.7,550.3 L129.6,548.3 L131.6,546.3 L133.6,544.3 L135.6,542.4 L137.6,540.5 L139.7,538.7 L141.8,536.8 L144.0,535.0 L146.2,533.3 L148.4,531.5 L150.6,529.8 L152.9,528.1 L155.1,526.5 L157.4,524.9 L159.8,523.3 L162.1,521.8 L164.5,520.3 L166.9,518.8 L169.3,517.3 L171.7,515.9 L174.1,514.6 L176.6,513.2 L179.1,511.9 L181.6,510.6 L184.1,509.4 L186.6,508.2 L189.2,507.0 L191.7,505.9 L194.3,504.7 L196.8,503.7 L199.4,502.6 L202.0,501.6 L204.6,500.7 L207.3,499.8 L209.9,498.9 L212.5,498.0 L215.2,497.2 L217.9,496.4 L220.5,495.7 L223.2,495.0 L225.9,494.3 L228.6,493.6 L231.3,493.0 L234.1,492.5 L236.8,491.9 L239.6,491.4 L242.3,490.9 L245.1,490.4 L247.8,490.0 L250.6,489.5 L253.4,489.1 L256.2,488.7 L258.9,488.3 L261.7,487.9 L264.5,487.6 L267.3,487.2 L270.1,486.9 L272.9,486.5 L275.6,486.2 L278.4,485.9 L281.2,485.5 L284.0,485.2 L286.8,484.9 L289.6,484.7 L292.4,484.4 L295.2,484.1 L298.0,483.9 L300.7,483.7 L303.5,483.5 L306.3,483.3 L309.1,483.1 L311.9,482.9 L314.7,482.8 L317.5,482.7 L320.3,482.6 L323.1,482.5 L325.9,482.4 L328.7,482.4 L331.5,482.4 L334.3,482.4 L337.1,482.4 L339.9,482.4 L342.6,482.5 L345.4,482.6 L348.2,482.7 L351.0,482.8 L353.8,483.0 L356.6,483.2 L359.4,483.4 L362.2,483.6 L365.0,483.9 L367.7,484.1 L370.5,484.4 L373.3,484.8 L376.1,485.1 L378.8,485.5 L381.6,485.9 L384.4,486.3 L387.1,486.7 L389.9,487.2 L392.7,487.7 L395.4,488.2 L398.2,488.7 L400.9,489.3 L403.6,489.9 L406.4,490.5 L409.1,491.1 L411.8,491.8 L414.5,492.5 L417.3,493.2 L420.0,493.9 L422.7,494.7" stroke="#000000"/>
</g>
<path d="M58.5,436.9 H422.8" stroke="#000" stroke-width="2.5" stroke-dasharray="8.5 2.7" fill="none"/>
<circle cx="185.7" cy="436.8" r="5.2" fill="#000"/>
<circle cx="278.8" cy="444.8" r="5.2" fill="#000"/>
<circle cx="309.9" cy="455.4" r="5.2" fill="#000"/>
<circle cx="325.8" cy="464.3" r="5.2" fill="#000"/>
<circle cx="344.9" cy="473.7" r="5.2" fill="#000"/>
<circle cx="358.4" cy="483.1" r="5.2" fill="#000"/>
<path d="M78.2,492.0 L79.8,492.9 L81.4,493.8 L82.9,494.7 L84.5,495.6 L86.0,496.6 L87.6,497.5 L89.1,498.5 L90.6,499.5 L92.0,500.5 L93.5,501.5 L95.0,502.6 L96.4,503.6 L97.9,504.7 L99.3,505.8 L100.7,506.9 L102.1,508.0 L103.5,509.2 L104.9,510.3 L106.3,511.5 L107.7,512.6 L109.0,513.8 L110.4,515.0 L111.7,516.2 L113.0,517.5 L114.3,518.7 L115.6,519.9 L116.9,521.2 L118.2,522.5 L119.5,523.7 L120.7,525.0 L122.0,526.3 L123.2,527.6 L124.5,529.0 L125.7,530.3 L126.9,531.6 L128.1,532.9 L129.3,534.3 L130.5,535.6 L131.7,537.0 L132.9,538.4 L134.0,539.8 L135.2,541.1 L136.4,542.5 L137.5,543.9 L138.6,545.3 L139.8,546.7 L140.9,548.1 L142.0,549.5 L143.1,550.9" stroke="#000" stroke-width="1.6" fill="none"/>
<path d="M152.8,564.0 L139.5,552.5 L146.5,547.6 z" fill="#000"/>
<path d="M124,478.9 Q155.2,503.8 174.1,529.8" stroke="#000" stroke-width="0.9" fill="none"/>
<path d="M179.7,535.4 L166.2,524.3 L172.4,519.6 z" fill="#000"/>
<path d="M176.2,474.4 Q198.0,497.0 210.0,519.1" stroke="#000" stroke-width="0.9" fill="none"/>
<path d="M213.8,524.1 L201.9,511.4 L208.6,507.5 z" fill="#000"/>
<path d="M216.4,477 Q231.2,493.4 239.2,509.2" stroke="#000" stroke-width="0.9" fill="none"/>
<path d="M241.7,512.8 L230.2,499.7 L237.0,496.0 z" fill="#000"/>
<path d="M264.4,481.3 Q272.8,492.7 276.9,503.4" stroke="#000" stroke-width="0.9" fill="none"/>
<path d="M278.3,505.8 L268.1,491.6 L275.3,488.6 z" fill="#000"/>
<path d="M137.9,433.7 L138.7,431.8 L139.7,430.0 L140.7,428.3 L141.8,426.6 L142.9,424.9 L144.1,423.4 L145.4,421.9 L146.7,420.4 L148.1,419.0 L149.5,417.6 L151.0,416.4 L152.5,415.1 L154.1,413.9 L155.7,412.8 L157.3,411.7 L159.0,410.7 L160.7,409.7 L162.5,408.8 L164.3,407.9 L166.1,407.1 L167.9,406.3 L169.8,405.6 L171.7,404.9 L173.6,404.3 L175.5,403.7 L177.5,403.2 L179.4,402.7 L181.4,402.2 L183.4,401.8 L185.3,401.4 L187.3,401.1 L189.3,400.8 L191.3,400.6 L193.2,400.4 L195.2,400.2 L197.2,400.1 L199.1,400.0 L201.0,399.9 L202.9,399.9" stroke="#000" stroke-width="1.0" fill="none"/>
<path d="M218.6,399.9 L199.6,403.6 L199.6,396.2 z" fill="#000"/>
<text x="220.0" y="403.1" font-size="19" text-anchor="start" font-family="'Liberation Serif', 'Times New Roman', serif" >material ultimate strength</text>
<text x="108.0" y="456.0" font-size="19" text-anchor="middle" font-family="'Liberation Serif', 'Times New Roman', serif" >0.08</text>
<text x="178.6" y="551.2" font-size="19" text-anchor="middle" font-family="'Liberation Serif', 'Times New Roman', serif" >0.10</text>
<text x="212.0" y="538.1" font-size="19" text-anchor="middle" font-family="'Liberation Serif', 'Times New Roman', serif" >0.12</text>
<text x="244.3" y="528.5" font-size="19" text-anchor="middle" font-family="'Liberation Serif', 'Times New Roman', serif" >0.14</text>
<text x="281.8" y="520.6" font-size="19" text-anchor="middle" font-family="'Liberation Serif', 'Times New Roman', serif" >0.16</text>
<text x="313.9" y="500.6" font-size="19" text-anchor="middle" font-family="'Liberation Serif', 'Times New Roman', serif" >0.18</text>
<g font-family="'Liberation Serif', 'Times New Roman', serif" font-size="24" stroke="#fff" stroke-width="0.12"><text x="64.8" y="481.2" font-style="italic">l</text><text x="73.8" y="486.5" font-size="34.8" stroke-width="0.4">/</text><text transform="translate(84.2,481.2) scale(1.17,1)" font-style="italic">L</text></g>
<text transform="translate(56.6,668.7) scale(1,1.11)" font-size="17.4" text-anchor="end" font-family="'Liberation Serif', 'Times New Roman', serif" >0</text>
<text transform="translate(56.6,612.3) scale(1,1.11)" font-size="17.4" text-anchor="end" font-family="'Liberation Serif', 'Times New Roman', serif" >20</text>
<text transform="translate(56.6,555.9) scale(1,1.11)" font-size="17.4" text-anchor="end" font-family="'Liberation Serif', 'Times New Roman', serif" >40</text>
<text transform="translate(56.6,499.5) scale(1,1.11)" font-size="17.4" text-anchor="end" font-family="'Liberation Serif', 'Times New Roman', serif" >60</text>
<text transform="translate(56.6,443.1) scale(1,1.11)" font-size="17.4" text-anchor="end" font-family="'Liberation Serif', 'Times New Roman', serif" >80</text>
<text transform="translate(56.6,386.7) scale(1,1.11)" font-size="17.4" text-anchor="end" font-family="'Liberation Serif', 'Times New Roman', serif" >100</text>
<text transform="translate(62.0,682.8) scale(1,1.11)" font-size="17.4" text-anchor="middle" font-family="'Liberation Serif', 'Times New Roman', serif" >0</text>
<text transform="translate(123.2,682.8) scale(1,1.11)" font-size="17.4" text-anchor="middle" font-family="'Liberation Serif', 'Times New Roman', serif" >5</text>
<text transform="translate(184.3,682.8) scale(1,1.11)" font-size="17.4" text-anchor="middle" font-family="'Liberation Serif', 'Times New Roman', serif" >10</text>
<text transform="translate(245.5,682.8) scale(1,1.11)" font-size="17.4" text-anchor="middle" font-family="'Liberation Serif', 'Times New Roman', serif" >15</text>
<text transform="translate(306.7,682.8) scale(1,1.11)" font-size="17.4" text-anchor="middle" font-family="'Liberation Serif', 'Times New Roman', serif" >20</text>
<text transform="translate(367.9,682.8) scale(1,1.11)" font-size="17.4" text-anchor="middle" font-family="'Liberation Serif', 'Times New Roman', serif" >25</text>
<text transform="translate(429.0,682.8) scale(1,1.11)" font-size="17.4" text-anchor="middle" font-family="'Liberation Serif', 'Times New Roman', serif" >30</text>
<text x="240.8" y="713.0" font-size="19.3" text-anchor="middle" font-family="'Liberation Serif', 'Times New Roman', serif" >strain (%)</text>
<text transform="translate(26.8,516.1) rotate(-90)" font-size="19.3" text-anchor="middle" font-family="'Liberation Serif', 'Times New Roman', serif">maximum von Mises stress (MPa)</text>
<text x="2.0" y="712.6" font-size="27.5" text-anchor="start" font-family="'Liberation Sans', Arial, sans-serif" font-weight="bold">(c)</text>
<rect x="533.5" y="382.8" width="367.3" height="282.0" fill="none" stroke="#7a7a7a" stroke-width="1"/>
<path d="M607.1,664.8 v-3.4 M607.1,382.8 v3.4 M680.6,664.8 v-3.4 M680.6,382.8 v3.4 M754.2,664.8 v-3.4 M754.2,382.8 v3.4 M827.7,664.8 v-3.4 M827.7,382.8 v3.4 M533.5,617.8 h3.4 M900.8,617.8 h-3.4 M533.5,570.8 h3.4 M900.8,570.8 h-3.4 M533.5,523.8 h3.4 M900.8,523.8 h-3.4 M533.5,476.8 h3.4 M900.8,476.8 h-3.4 M533.5,429.8 h3.4 M900.8,429.8 h-3.4 " stroke="#7a7a7a" stroke-width="1" fill="none"/>
<path d="M533.5,403.9 L569.9,433.7 L607,463.3 L643.9,489.7 L681,507.7 L717.1,525.2 L754,545.1 L790.6,559.4 L827.5,584.8 L864.6,607.9 L900.9,622.1" stroke="#0b60f6" stroke-width="3.6" fill="none" stroke-linejoin="round"/>
<circle cx="533.5" cy="403.9" r="5.5" fill="#000"/>
<circle cx="607.0" cy="463.3" r="5.5" fill="#000"/>
<circle cx="681.0" cy="507.7" r="5.5" fill="#000"/>
<circle cx="754.0" cy="545.1" r="5.5" fill="#000"/>
<circle cx="827.5" cy="584.8" r="5.5" fill="#000"/>
<circle cx="900.9" cy="622.1" r="5.5" fill="#000"/>
<text transform="translate(528.5,671.1) scale(1,1.11)" font-size="17.4" text-anchor="end" font-family="'Liberation Serif', 'Times New Roman', serif" >0.75</text>
<text transform="translate(528.5,624.1) scale(1,1.11)" font-size="17.4" text-anchor="end" font-family="'Liberation Serif', 'Times New Roman', serif" >0.8</text>
<text transform="translate(528.5,577.1) scale(1,1.11)" font-size="17.4" text-anchor="end" font-family="'Liberation Serif', 'Times New Roman', serif" >0.85</text>
<text transform="translate(528.5,530.1) scale(1,1.11)" font-size="17.4" text-anchor="end" font-family="'Liberation Serif', 'Times New Roman', serif" >0.9</text>
<text transform="translate(528.5,483.1) scale(1,1.11)" font-size="17.4" text-anchor="end" font-family="'Liberation Serif', 'Times New Roman', serif" >0.95</text>
<text transform="translate(528.5,436.1) scale(1,1.11)" font-size="17.4" text-anchor="end" font-family="'Liberation Serif', 'Times New Roman', serif" >1</text>
<text transform="translate(528.5,389.1) scale(1,1.11)" font-size="17.4" text-anchor="end" font-family="'Liberation Serif', 'Times New Roman', serif" >1.05</text>
<text transform="translate(533.5,685.3) scale(1,1.11)" font-size="17.4" text-anchor="middle" font-family="'Liberation Serif', 'Times New Roman', serif" >0.08</text>
<text transform="translate(607.1,685.3) scale(1,1.11)" font-size="17.4" text-anchor="middle" font-family="'Liberation Serif', 'Times New Roman', serif" >0.1</text>
<text transform="translate(680.6,685.3) scale(1,1.11)" font-size="17.4" text-anchor="middle" font-family="'Liberation Serif', 'Times New Roman', serif" >0.12</text>
<text transform="translate(754.2,685.3) scale(1,1.11)" font-size="17.4" text-anchor="middle" font-family="'Liberation Serif', 'Times New Roman', serif" >0.14</text>
<text transform="translate(827.7,685.3) scale(1,1.11)" font-size="17.4" text-anchor="middle" font-family="'Liberation Serif', 'Times New Roman', serif" >0.16</text>
<text transform="translate(901.3,685.3) scale(1,1.11)" font-size="17.4" text-anchor="middle" font-family="'Liberation Serif', 'Times New Roman', serif" >0.18</text>
<g font-family="'Liberation Serif', 'Times New Roman', serif" font-size="24" stroke="#fff" stroke-width="0.12"><text x="688.5" y="714.3" font-style="italic">l</text><text x="697.5" y="719.6" font-size="34.8" stroke-width="0.4">/</text><text transform="translate(707.9,714.3) scale(1.17,1)" font-style="italic">L</text></g>
<text x="451.2" y="714.0" font-size="27.5" text-anchor="start" font-family="'Liberation Sans', Arial, sans-serif" font-weight="bold">(d)</text>
<g transform="translate(484.9,587.3) rotate(-90)" font-family="'Liberation Serif', 'Times New Roman', serif" font-size="19"><text x="0" y="0" font-style="italic" font-size="25">ζ</text><text transform="translate(14.6,-2.9) scale(1.16,0.71)" font-size="24">=</text><text transform="translate(37.6,0) scale(1.3,1)" font-style="italic" font-size="20.5">σ</text><text x="50.3" y="6.3">max</text><text x="89.0" y="0.3" font-size="27">/</text><text transform="translate(101.6,0) scale(1.3,1)" font-style="italic" font-size="20.5">σ</text><text x="116.0" y="6.0" font-size="18.2">ult</text></g>
</svg>
</body></html>
